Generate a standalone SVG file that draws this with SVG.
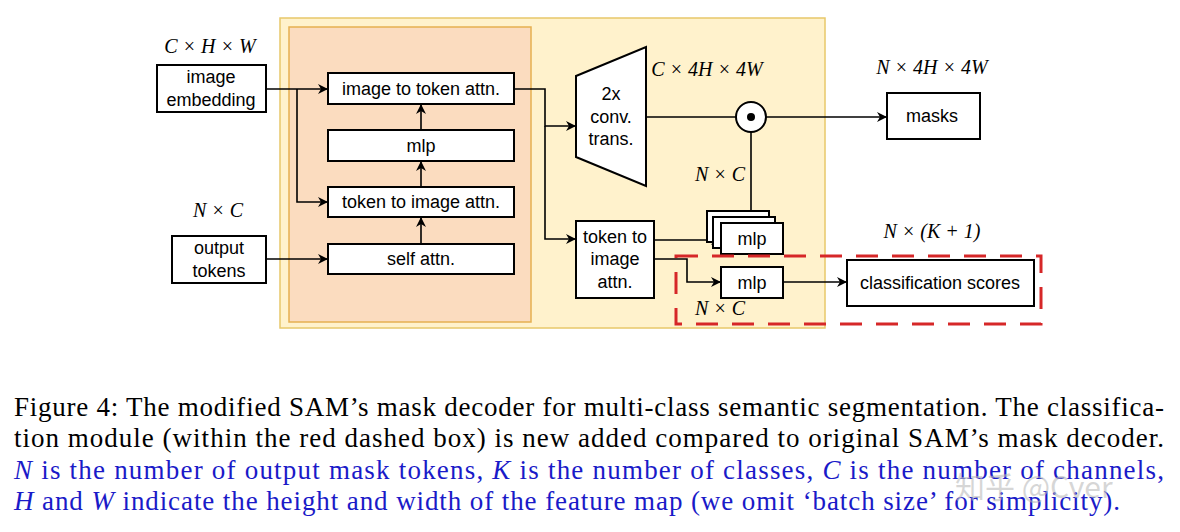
<svg xmlns="http://www.w3.org/2000/svg" width="1180" height="532" viewBox="0 0 1180 532">
<defs>
<marker id="ar" markerWidth="10" markerHeight="10" refX="9" refY="5" orient="auto" markerUnits="userSpaceOnUse"><path d="M0,0 L10,5 L0,10 L3,5 Z" fill="#000"/></marker>
<style>
.b{fill:#fff;stroke:#000;stroke-width:2}
.t{font-family:"Liberation Sans",Arial,sans-serif;font-size:18px;text-anchor:middle}
.m{font-family:"Liberation Serif",serif;font-style:italic;font-size:20px;text-anchor:middle}
.c{stroke:#000;stroke-width:1.6;fill:none}
.a{marker-end:url(#ar)}
.cap{font-family:"Liberation Serif",serif;font-size:27px}
.bl{fill:#1a1ac8}
</style>
</defs>
<rect width="1180" height="532" fill="#fff"/>
<g id="outer"><rect x="280" y="18" width="545" height="310" fill="#fff2cc" stroke="#e8c86a" stroke-width="1.5"/></g>
<g id="inner"><rect x="289" y="27" width="242" height="295" fill="#fbdcbf" stroke="#e6b050" stroke-width="1.5"/></g>
<g id="connectors">
<path class="c a" d="M266,89 H327"/>
<path class="c a" d="M297,89 V202 H327"/>
<path class="c a" d="M266,259 H327"/>
<path class="c a" d="M421,244 V218"/>
<path class="c a" d="M421,187 V162"/>
<path class="c a" d="M421,130 V105"/>
<path class="c a" d="M514,89 H545 V126 H575"/>
<path class="c a" d="M545,126 V239 H575"/>
<path class="c" d="M646,117 H736"/>
<path class="c a" d="M766,117 H886"/>
<path class="c" d="M751,132 V216"/>
<path class="c a" d="M654,240 H720"/>
<path class="c a" d="M654,259 H687 V282 H720"/>
<path class="c a" d="M783,282 H846"/>
</g>
<g id="image-embedding"><rect class="b" x="157" y="65" width="109" height="47"/><text class="t" x="211" y="83">image</text><text class="t" x="211" y="106">embedding</text></g>
<g id="output-tokens"><rect class="b" x="172" y="236" width="94" height="47"/><text class="t" x="219" y="254">output</text><text class="t" x="219" y="277">tokens</text></g>
<g id="i2t"><rect class="b" x="328" y="73" width="186" height="31"/><text class="t" x="421" y="95">image to token attn.</text></g>
<g id="mlp1"><rect class="b" x="328" y="130" width="186" height="31"/><text class="t" x="421" y="152">mlp</text></g>
<g id="t2i"><rect class="b" x="328" y="187" width="186" height="30"/><text class="t" x="421" y="208">token to image attn.</text></g>
<g id="self"><rect class="b" x="328" y="244" width="186" height="30"/><text class="t" x="421" y="265">self attn.</text></g>
<g id="conv"><path class="b" d="M576,76 L646,47 V186 L576,157 Z"/><text class="t" x="611" y="100">2x</text><text class="t" x="611" y="123">conv.</text><text class="t" x="611" y="145">trans.</text></g>
<g id="dot"><circle cx="751" cy="117" r="15" class="b"/><circle cx="751" cy="117" r="4" fill="#000"/></g>
<g id="masks"><rect class="b" x="887" y="93" width="93" height="46"/><text class="t" x="932" y="122">masks</text></g>
<g id="t2i2"><rect class="b" x="576" y="221" width="78" height="77"/><text class="t" x="615" y="243">token to</text><text class="t" x="615" y="265">image</text><text class="t" x="615" y="288">attn.</text></g>
<g id="mlp-stack"><rect class="b" x="707" y="211" width="62" height="31"/><rect class="b" x="713" y="217" width="62" height="31"/><rect class="b" x="721" y="223" width="62" height="31"/><text class="t" x="752" y="245">mlp</text></g>
<g id="mlp2"><rect class="b" x="721" y="267" width="62" height="31"/><text class="t" x="752" y="289">mlp</text></g>
<g id="cls"><rect class="b" x="847" y="260" width="187" height="46"/><text class="t" x="940" y="289">classification scores</text></g>
<g id="redbox"><rect x="676" y="256" width="365" height="68" fill="none" stroke="#d62728" stroke-width="3" stroke-dasharray="22,14"/></g>
<g id="labels">
<text class="m" x="210" y="53">C × H × W</text>
<text class="m" x="218" y="217">N × C</text>
<text class="m" x="707" y="76">C × 4H × 4W</text>
<text class="m" x="932" y="74">N × 4H × 4W</text>
<text class="m" x="720" y="181">N × C</text>
<text class="m" x="932" y="238">N × (K + 1)</text>
<text class="m" x="720" y="315">N × C</text>
</g>
<g id="caption" class="cap">
<text x="14" y="416" textLength="1150" lengthAdjust="spacing">Figure 4: The modified SAM’s mask decoder for multi-class semantic segmentation. The classifica-</text>
<text x="14" y="447" textLength="1150" lengthAdjust="spacing">tion module (within the red dashed box) is new added compared to original SAM’s mask decoder.</text>
<text x="14" y="479" class="bl" textLength="1150" lengthAdjust="spacing"><tspan font-style="italic">N</tspan> is the number of output mask tokens, <tspan font-style="italic">K</tspan> is the number of classes, <tspan font-style="italic">C</tspan> is the number of channels,</text>
<text x="14" y="510" class="bl" textLength="1106" lengthAdjust="spacing"><tspan font-style="italic">H</tspan> and <tspan font-style="italic">W</tspan> indicate the height and width of the feature map (we omit ‘batch size’ for simplicity).</text>
</g>
<text x="955" y="498" font-family="'Noto Sans CJK SC',sans-serif" font-size="30" fill="#bbb" fill-opacity="0.6">知乎 @Cver</text>
</svg>
